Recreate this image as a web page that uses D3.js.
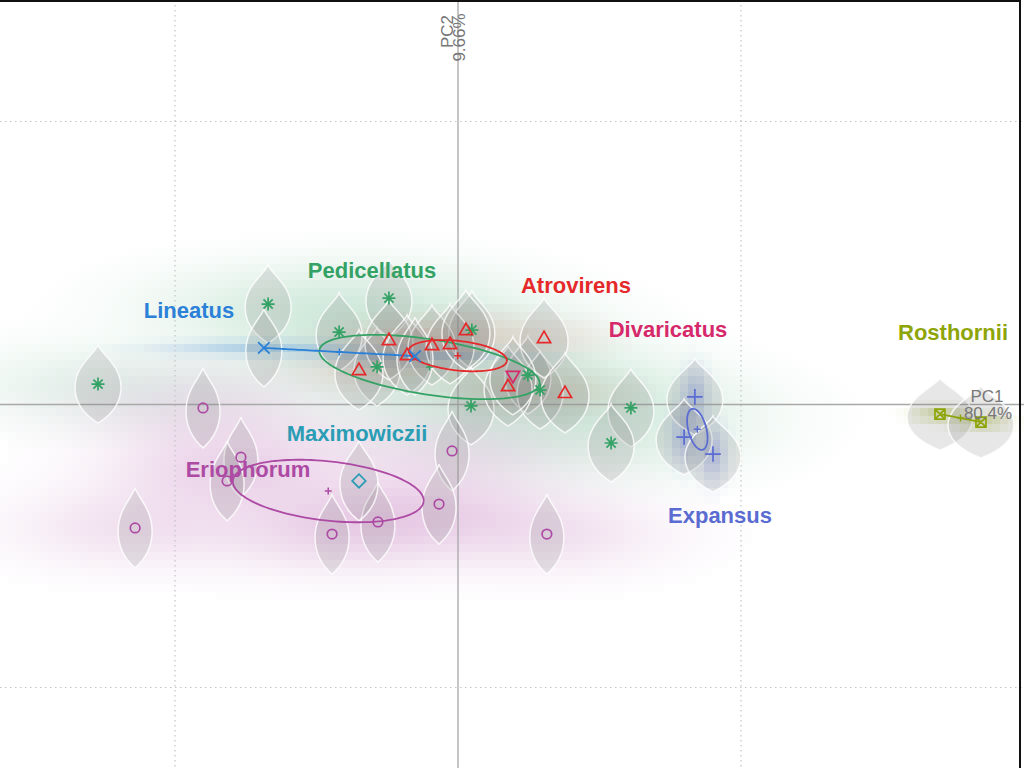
<!DOCTYPE html>
<html><head><meta charset="utf-8">
<script src="https://cdn.jsdelivr.net/npm/d3@7"></script>
<style>html,body{margin:0;padding:0;background:#fff;overflow:hidden}</style>
</head><body><svg id="chart" width="1024" height="768"></svg>
<script>
// ---------------- DATA ----------------
const speciesNames = ["Eriophorum","Pedicellatus","Atrovirens","Lineatus","Expansus","Rosthornii","Divaricatus","Maximowiczii"];
const axisNames = ["PC1","PC2"];
const axisVariance = ["80.4%","9.66%"];
const gridTicks = [-1, 1];

const specimenSpecies = [
  "Pedicellatus","Pedicellatus","Pedicellatus","Pedicellatus","Pedicellatus","Pedicellatus",
  "Pedicellatus","Pedicellatus","Pedicellatus","Pedicellatus","Pedicellatus",
  "Atrovirens","Atrovirens","Atrovirens","Atrovirens","Atrovirens","Atrovirens",
  "Atrovirens","Atrovirens","Atrovirens",
  "Divaricatus",
  "Lineatus","Lineatus",
  "Expansus","Expansus","Expansus",
  "Rosthornii","Rosthornii",
  "Eriophorum","Eriophorum","Eriophorum","Eriophorum","Eriophorum","Eriophorum",
  "Eriophorum","Eriophorum","Eriophorum",
  "Maximowiczii"
];
const specimenPC1 = [
  -1.272,-0.671,-0.244,-0.420,-0.286,0.049,0.247,0.290,0.046,0.611,0.541,
  -0.244,-0.350,-0.180,-0.092,-0.028,0.028,0.304,0.177,0.378,
  0.194,
  -0.686,-0.152,
  0.837,0.799,0.901,
  1.703,1.848,
  -0.901,-0.767,-0.816,-1.141,-0.445,-0.021,-0.067,-0.283,0.314,
  -0.350
];
const specimenPC2 = [
  0.072,0.355,0.376,0.256,0.133,0.263,0.104,0.051,-0.005,-0.012,-0.136,
  0.228,0.122,0.175,0.210,0.214,0.263,0.235,0.065,0.041,
  0.101,
  0.200,0.171,
  0.027,-0.115,-0.175,
  -0.034,-0.062,
  -0.012,-0.186,-0.270,-0.436,-0.458,-0.164,-0.352,-0.415,-0.458,
  -0.270
];

// ---------------- STYLE ----------------
const colors = {
  Eriophorum:"#ad4aa4", Pedicellatus:"#35a265", Atrovirens:"#e5292b", Lineatus:"#2b80d8",
  Expansus:"#5a6bd2", Rosthornii:"#8ea50a", Divaricatus:"#d6296b", Maximowiczii:"#2a9db5"
};
const cloudAlpha = {
  Eriophorum:0.3, Pedicellatus:0.28, Atrovirens:0.2, Lineatus:0.28, Expansus:0.34, Rosthornii:0.32
};
const markers = {
  Eriophorum:"circle", Pedicellatus:"asterisk", Atrovirens:"triangle", Lineatus:"cross",
  Expansus:"plus", Rosthornii:"boxx", Divaricatus:"triangleDown", Maximowiczii:"diamond"
};
const leafSize = {
  Eriophorum:[34,80], Pedicellatus:[46,78], Atrovirens:[48,80], Divaricatus:[46,78],
  Lineatus:[36,78], Expansus:[56,76], Rosthornii:[66,72], Maximowiczii:[38,80]
};
const labelLayout = {
  Lineatus:[189,318], Pedicellatus:[372,278], Atrovirens:[576,293], Divaricatus:[668,337],
  Rosthornii:[953,340], Maximowiczii:[357,441], Eriophorum:[248,477], Expansus:[720,523]
};

const W = 1024, H = 768;
const svg = d3.select("#chart");
const x = d3.scaleLinear().domain([-1, 1]).range([175, 741]);
const y = d3.scaleLinear().domain([-1, 1]).range([687.5, 121.5]);

const specimens = specimenSpecies.map((s, i) => ({sp: s, pc1: specimenPC1[i], pc2: specimenPC2[i]}));
const bySp = d3.group(specimens, d => d.sp);

// ---------------- density clouds ----------------
const cloudOrder = ["Eriophorum","Pedicellatus","Atrovirens","Lineatus","Expansus","Rosthornii"];
const cell = 8;
const cloudG = svg.append("g").attr("shape-rendering", "crispEdges");
cloudOrder.forEach(sp => {
  const pts = bySp.get(sp);
  if (!pts || pts.length < 2) return;
  const sdx = d3.deviation(pts, d => d.pc1), sdy = d3.deviation(pts, d => d.pc2);
  const hx = Math.max(0.55 * sdx, 0.016), hy = Math.max(0.55 * sdy, 0.016);
  const cells = [];
  let dmax = 0;
  for (let i = 0; i < W / cell; i++) {
    for (let j = 0; j < H / cell; j++) {
      const vx = x.invert(i * cell + cell / 2), vy = y.invert(j * cell + cell / 2);
      let d = 0;
      pts.forEach(p => {
        const a = (vx - p.pc1) / hx, b = (vy - p.pc2) / hy;
        d += Math.exp(-0.5 * (a * a + b * b));
      });
      if (d > dmax) dmax = d;
      cells.push([i, j, d]);
    }
  }
  const vis = cells.map(c => [c[0], c[1], cloudAlpha[sp] * Math.pow(c[2] / dmax, 0.75)]).filter(c => c[2] > 0.01);
  cloudG.append("g").selectAll("rect").data(vis).join("rect")
    .attr("x", c => c[0] * cell).attr("y", c => c[1] * cell)
    .attr("width", cell).attr("height", cell)
    .attr("fill", colors[sp]).attr("fill-opacity", c => c[2]);
});

// ---------------- grid & axes ----------------
const gridG = svg.append("g");
gridTicks.forEach(t => {
  gridG.append("line").attr("x1", x(t)).attr("x2", x(t)).attr("y1", 0).attr("y2", H)
    .attr("stroke", "#c4c4c4").attr("stroke-width", 1.2).attr("stroke-dasharray", "1.5,3.5");
  gridG.append("line").attr("y1", y(t)).attr("y2", y(t)).attr("x1", 0).attr("x2", W)
    .attr("stroke", "#c4c4c4").attr("stroke-width", 1.2).attr("stroke-dasharray", "1.5,3.5");
});
gridG.append("line").attr("x1", x(0)).attr("x2", x(0)).attr("y1", 0).attr("y2", H)
  .attr("stroke", "#a8a8a8").attr("stroke-width", 1.3);
gridG.append("line").attr("y1", y(0)).attr("y2", y(0)).attr("x1", 0).attr("x2", W)
  .attr("stroke", "#a8a8a8").attr("stroke-width", 1.3);

// ---------------- leaves ----------------
const leafPath = "M0,-0.5 C0.05,-0.4 0.5,-0.24 0.5,0.04 C0.5,0.28 0.22,0.42 0,0.5 C-0.22,0.42 -0.5,0.28 -0.5,0.04 C-0.5,-0.24 -0.05,-0.4 0,-0.5 Z";
const leafG = svg.append("g");
specimens.forEach(d => {
  const [lw, lh] = leafSize[d.sp];
  leafG.append("path").attr("d", leafPath)
    .attr("transform", `translate(${x(d.pc1)},${y(d.pc2)}) scale(${lw},${lh})`)
    .attr("fill", "rgba(120,120,120,0.18)")
    .attr("stroke", "rgba(255,255,255,0.8)")
    .attr("stroke-width", 1.5).attr("vector-effect", "non-scaling-stroke");
});

// ---------------- ellipses & centroids ----------------
const k = 0.7;
const ellG = svg.append("g");
speciesNames.forEach(sp => {
  const pts = bySp.get(sp);
  if (!pts || pts.length < 2) return;
  const n = pts.length;
  const mx = d3.mean(pts, d => d.pc1), my = d3.mean(pts, d => d.pc2);
  let a = 0, b = 0, c = 0;
  pts.forEach(p => { const dx = p.pc1 - mx, dy = p.pc2 - my; a += dx * dx; b += dx * dy; c += dy * dy; });
  a /= (n - 1); b /= (n - 1); c /= (n - 1);
  const mid = (a + c) / 2, r = Math.sqrt(((a - c) / 2) ** 2 + b * b);
  const l1 = Math.max(mid + r, 0), l2 = Math.max(mid - r, 0);
  const th = 0.5 * Math.atan2(2 * b, a - c);
  const s1 = k * Math.sqrt(l1), s2 = k * Math.sqrt(l2);
  const ring = d3.range(0, 121).map(i => {
    const t = i / 120 * 2 * Math.PI;
    const u = s1 * Math.cos(t), v = s2 * Math.sin(t);
    return [x(mx + u * Math.cos(th) - v * Math.sin(th)), y(my + u * Math.sin(th) + v * Math.cos(th))];
  });
  ellG.append("path").attr("d", d3.line()(ring)).attr("fill", "none")
    .attr("stroke", colors[sp]).attr("stroke-width", 1.8);
  const cx = x(mx), cy = y(my);
  ellG.append("path").attr("d", `M${cx - 3.5},${cy}H${cx + 3.5}M${cx},${cy - 3.5}V${cy + 3.5}`)
    .attr("stroke", colors[sp]).attr("stroke-width", 1.5);
});

// ---------------- markers ----------------
function markerPath(type) {
  switch (type) {
    case "asterisk": { const r = 6.5, q = r * 0.707;
      return `M${-r},0H${r}M0,${-r}V${r}M${-q},${-q}L${q},${q}M${-q},${q}L${q},${-q}`; }
    case "triangle": return "M0,-6.8L6.6,4.6L-6.6,4.6Z";
    case "triangleDown": return "M0,6.8L6.6,-4.6L-6.6,-4.6Z";
    case "cross": return "M-5.8,-5.8L5.8,5.8M-5.8,5.8L5.8,-5.8";
    case "plus": return "M-7.8,0H7.8M0,-7.8V7.8";
    case "diamond": return "M0,-6.8L6.8,0L0,6.8L-6.8,0Z";
    case "boxx": return "M-5,-5H5V5H-5ZM-5,-5L5,5M-5,5L5,-5";
    default: return "";
  }
}
const markG = svg.append("g");
specimens.forEach(d => {
  const t = markers[d.sp];
  if (t === "circle") {
    markG.append("circle").attr("cx", x(d.pc1)).attr("cy", y(d.pc2)).attr("r", 4.8)
      .attr("fill", "none").attr("stroke", colors[d.sp]).attr("stroke-width", 1.7);
  } else {
    markG.append("path").attr("d", markerPath(t))
      .attr("transform", `translate(${x(d.pc1)},${y(d.pc2)})`)
      .attr("fill", "none").attr("stroke", colors[d.sp]).attr("stroke-width", 1.7);
  }
});

// ---------------- labels ----------------
const labG = svg.append("g").attr("font-family", "'Liberation Sans', Arial, Helvetica, sans-serif")
  .attr("font-weight", "bold").attr("font-size", 22).attr("text-anchor", "middle");
speciesNames.forEach(sp => {
  const [lx, ly] = labelLayout[sp];
  labG.append("text").attr("x", lx).attr("y", ly).attr("fill", colors[sp]).text(sp);
});

// axis titles
const axG = svg.append("g").attr("font-family", "'Liberation Sans', Arial, Helvetica, sans-serif")
  .attr("font-size", 17).attr("fill", "#777").attr("text-anchor", "middle");
axG.append("text").attr("x", 987).attr("y", 402).text(axisNames[0]);
axG.append("text").attr("x", 988).attr("y", 419).text(axisVariance[0]);
axG.append("text").attr("transform", "translate(453,31.5) rotate(-90)").text(axisNames[1]);
axG.append("text").attr("transform", "translate(465,37.5) rotate(-90)").text(axisVariance[1]);

// frame
svg.append("path").attr("d", "M0,1H1020V768").attr("fill", "none").attr("stroke", "#111").attr("stroke-width", 2);
</script>
</body></html>
